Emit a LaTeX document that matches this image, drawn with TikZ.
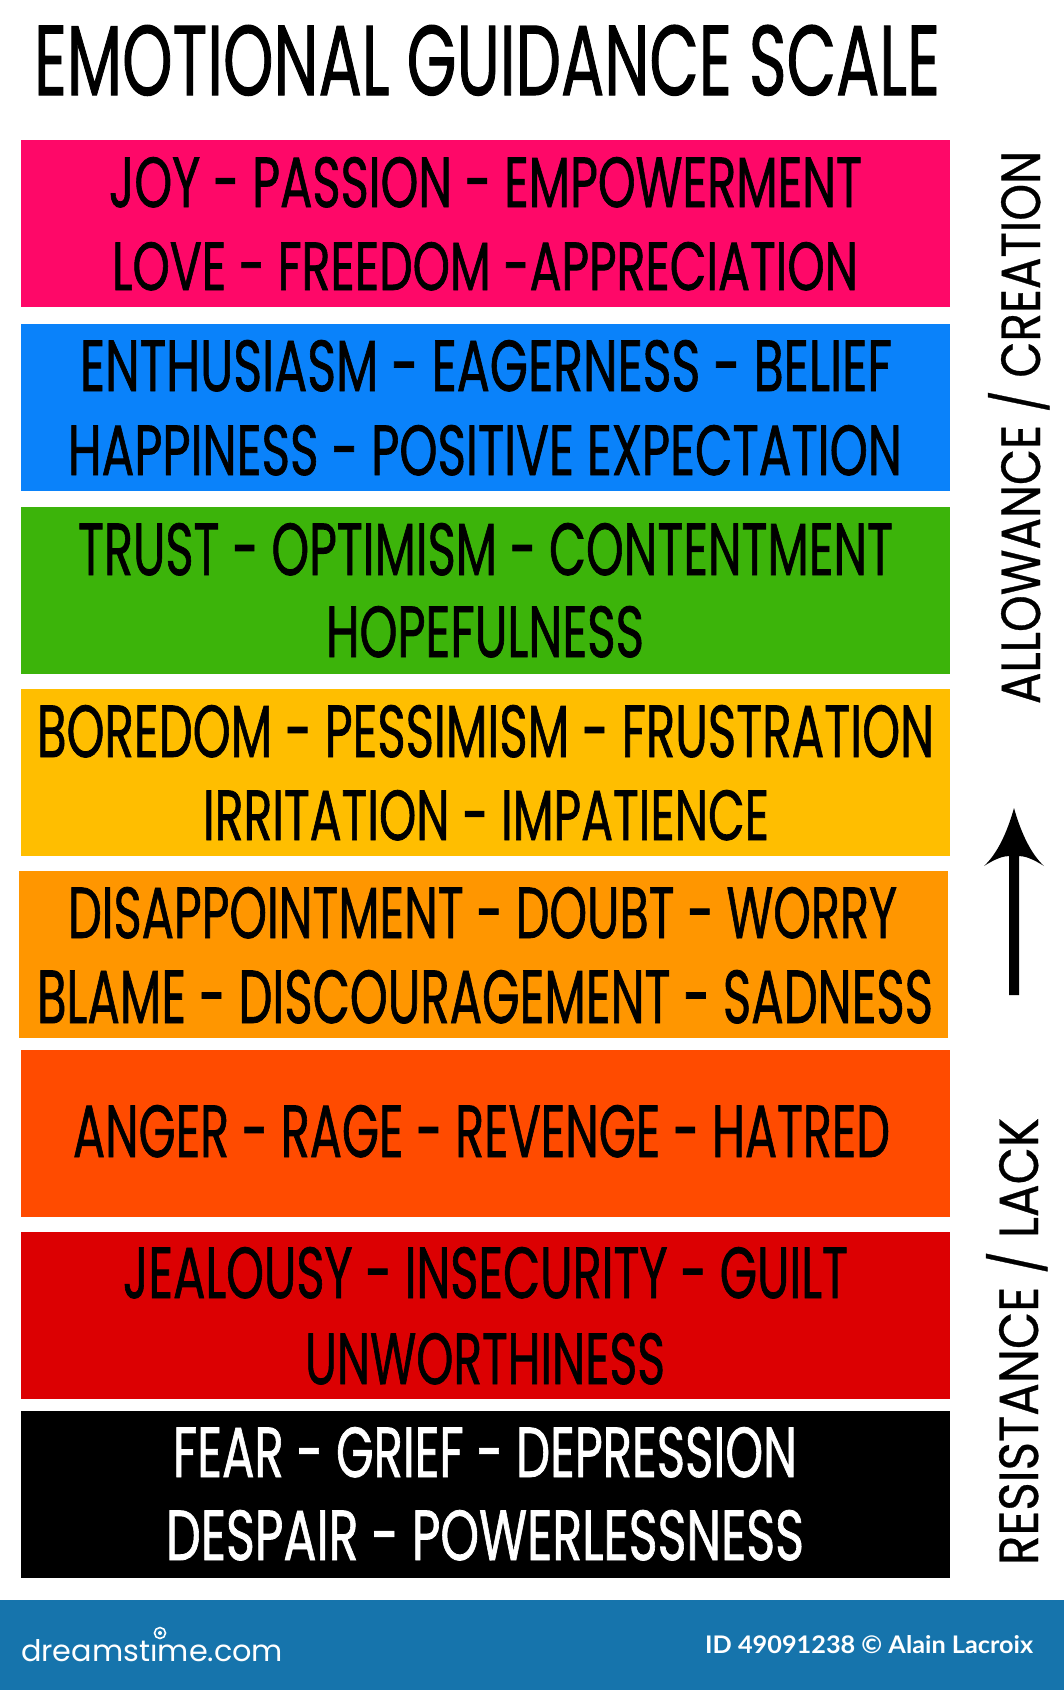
\documentclass[tikz,border=0pt]{standalone}
\usepackage{fontspec}
\usepackage{graphicx}
\newfontfamily\boxfont{Poppins}[FakeBold=1.2]
\newfontfamily\sidefont{Poppins}[FakeBold=0.6]
\newfontfamily\logofont{Poppins}
\newfontfamily\idfont{Lato}
\definecolor{cpink}{RGB}{254,8,104}
\definecolor{cblue}{RGB}{10,130,250}
\definecolor{cgreen}{RGB}{60,180,10}
\definecolor{cyellow}{RGB}{255,190,0}
\definecolor{corange}{RGB}{255,150,0}
\definecolor{credor}{RGB}{255,75,0}
\definecolor{cred}{RGB}{220,0,2}
\definecolor{cbar}{RGB}{22,116,172}
\newcommand\fitline[3]{\resizebox{#1pt}{#2pt}{#3}}
\tikzset{
  band/.style={anchor=north west, inner sep=0pt, outer sep=0pt, minimum width=929pt, minimum height=167pt},
  txt/.style={anchor=base west, inner sep=0pt, outer sep=0pt, font=\boxfont\fontsize{40}{48}\selectfont},
  side/.style={anchor=base west, inner sep=0pt, outer sep=0pt, rotate=90, font=\sidefont\fontsize{40}{48}\selectfont},
}
\begin{document}
\begin{tikzpicture}[x=1pt,y=-1pt]
\useasboundingbox (0,0) rectangle (1064,1690);
\fill[white] (0,0) rectangle (1064,1690);
% title
\node[txt] (title) at (34,95) {\fitline{906}{70}{EMOTIONAL GUIDANCE SCALE}};
% bands
\node[band, fill=cpink]   (b1) at (21,140)  {};
\node[band, fill=cblue]   (b2) at (21,324)  {};
\node[band, fill=cgreen]  (b3) at (21,507)  {};
\node[band, fill=cyellow] (b4) at (21,689)  {};
\node[band, fill=corange] (b5) at (19,871)  {};
\node[band, fill=credor]  (b6) at (21,1050) {};
\node[band, fill=cred]    (b7) at (21,1232) {};
\node[band, fill=black]   (b8) at (21,1411) {};
% texts
\node[txt] (t1a) at (109,207) {\fitline{753}{50}{JOY - PASSION - EMPOWERMENT}};
\node[txt] (t1b) at (112,290) {\fitline{746}{48}{LOVE - FREEDOM -APPRECIATION}};
\node[txt] (t2a) at (80,391)  {\fitline{812}{51}{ENTHUSIASM - EAGERNESS - BELIEF}};
\node[txt] (t2b) at (68,475)  {\fitline{834}{50}{HAPPINESS - POSITIVE EXPECTATION}};
\node[txt] (t3a) at (78,575)  {\fitline{815}{52}{TRUST - OPTIMISM - CONTENTMENT}};
\node[txt] (t3b) at (326,657) {\fitline{318}{51}{HOPEFULNESS}};
\node[txt] (t4a) at (37,757)  {\fitline{897}{52}{BOREDOM - PESSIMISM - FRUSTRATION}};
\node[txt] (t4b) at (203,840) {\fitline{566}{50}{IRRITATION - IMPATIENCE}};
\node[txt] (t5a) at (68,938)  {\fitline{829}{51}{DISAPPOINTMENT - DOUBT - WORRY}};
\node[txt] (t5b) at (37,1023) {\fitline{896}{53}{BLAME - DISCOURAGEMENT - SADNESS}};
\node[txt] (t6)  at (73,1157) {\fitline{817}{52}{ANGER - RAGE - REVENGE - HATRED}};
\node[txt] (t7a) at (123,1298){\fitline{725}{51}{JEALOUSY - INSECURITY - GUILT}};
\node[txt] (t7b) at (305,1384){\fitline{360}{51}{UNWORTHINESS}};
\node[txt, text=white] (t8a) at (173,1477){\fitline{624}{50}{FEAR - GRIEF - DEPRESSION}};
\node[txt, text=white] (t8b) at (166,1560){\fitline{638}{50}{DESPAIR - POWERLESSNESS}};
% side labels
\node[side] (allow) at (1040,704)  {\fitline{553}{52}{ALLOWANCE / CREATION}};
\node[side] (resist) at (1038,1565) {\fitline{447}{52}{RESISTANCE / LACK}};
% arrow
\coordinate (arrowtip) at (1014,808);
\coordinate (arrowbase) at (1014,995);
\fill[black] (arrowtip) .. controls (1007,833) and (997,854) .. (984,866)
  .. controls (995,859) and (1003,856) .. (1009,856) -- (1009,995) -- (1019,995) -- (1019,856)
  .. controls (1025,856) and (1033,859) .. (1044,866)
  .. controls (1031,854) and (1021,833) .. (arrowtip) -- cycle;
% bottom bar
\node[anchor=north west, inner sep=0pt, outer sep=0pt, minimum width=1064pt, minimum height=90pt, fill=cbar] (bar) at (0,1600) {};
\node[anchor=base west, inner sep=0pt, text=white, font=\logofont\fontsize{20}{24}\selectfont] (logo) at (21,1661) {\fitline{262}{22}{dreamst\char"0131 me.com}};
\draw[white, line width=1.6pt] (160,1633) circle (5.5);
\fill[white] (160,1633) circle (2);
\node[anchor=base west, inner sep=0pt, text=white, font=\idfont\bfseries\fontsize{20}{24}\selectfont] (id) at (705,1653) {\fitline{328}{18}{ID 49091238 © Alain Lacroix}};
\end{tikzpicture}
\end{document}
